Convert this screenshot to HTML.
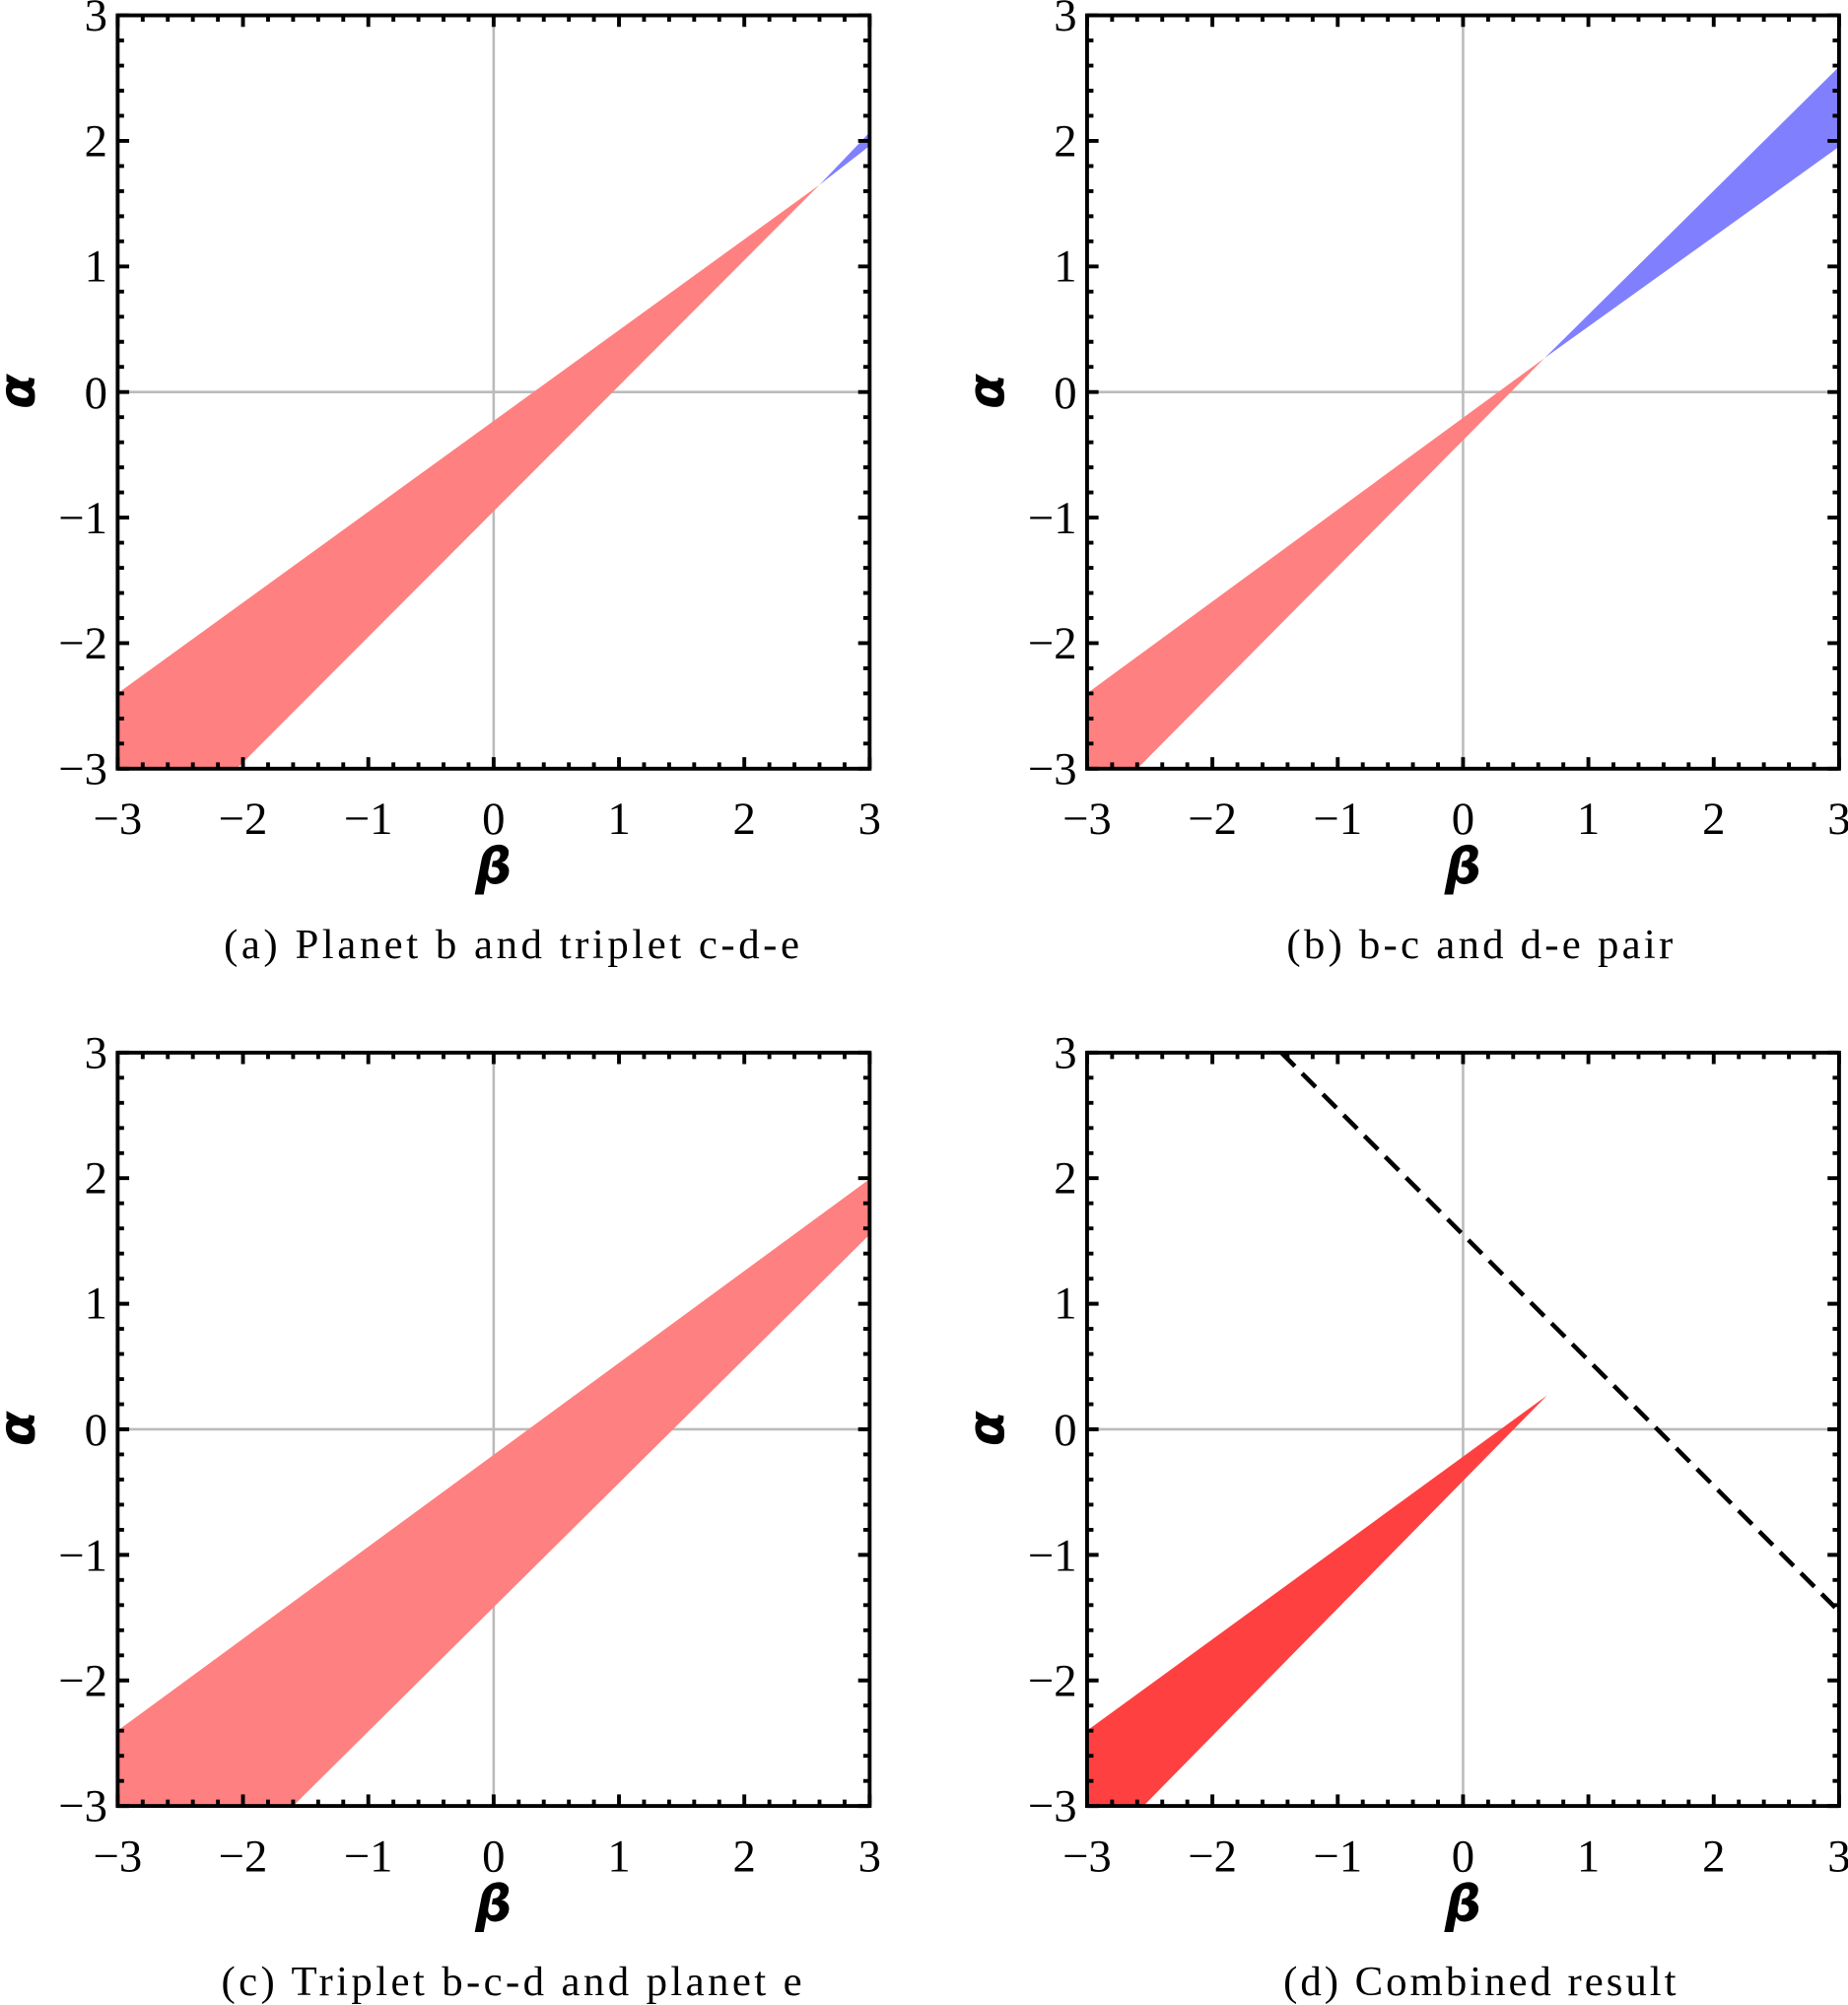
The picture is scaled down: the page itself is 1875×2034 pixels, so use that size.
<!DOCTYPE html>
<html><head><meta charset="utf-8"><style>
html,body{margin:0;padding:0;background:#fff;}
svg{display:block;}
.t{font-family:"Liberation Serif",serif;font-size:36px;fill:#000;}
.c{font-family:"Liberation Serif",serif;font-size:33px;fill:#000;text-anchor:middle;}
.g{font-family:"DejaVu Sans","Liberation Sans",sans-serif;font-size:40px;font-style:italic;font-weight:bold;fill:#000;text-anchor:middle;}
</style></head><body>
<svg id="s" width="1875" height="2034" viewBox="0 0 1445 1567.6" preserveAspectRatio="none" xmlns="http://www.w3.org/2000/svg">
<defs>
<clipPath id="cp"><rect x="0" y="0" width="588" height="589"/></clipPath>
</defs>

<!-- Panel a -->
<g transform="translate(92,12)">
 <g clip-path="url(#cp)">
  <line x1="294" y1="0" x2="294" y2="589" stroke="#bbb" stroke-width="2"/>
  <line x1="0" y1="294.5" x2="588" y2="294.5" stroke="#bbb" stroke-width="2"/>
  <polygon id="pa" fill="#ff8080"/>
  <polygon id="pa2" fill="#8080ff"/>
 </g>
 <g class="ticks"></g>
 <rect x="0" y="0" width="588" height="589" fill="none" stroke="#000" stroke-width="3"/>
 <g class="t" text-anchor="end">
  <text x="-8" y="12">3</text><text x="-8" y="110">2</text><text x="-8" y="208">1</text><text x="-8" y="307">0</text><text x="-8" y="405">−1</text><text x="-8" y="503">−2</text><text x="-8" y="601">−3</text>
 </g>
 <g class="t" text-anchor="middle">
  <text x="0" y="640">−3</text><text x="98" y="640">−2</text><text x="196" y="640">−1</text><text x="294" y="640">0</text><text x="392" y="640">1</text><text x="490" y="640">2</text><text x="588" y="640">3</text>
 </g>
 <text class="g" x="294" y="679">β</text>
 <text class="g" transform="translate(-65,294) rotate(-90)" y="0">α</text>
 <text class="c" x="308" y="737" textLength="450">(a) Planet b and triplet c-d-e</text>
</g>

<!-- Panel b -->
<g transform="translate(850,12)">
 <g clip-path="url(#cp)">
  <line x1="294" y1="0" x2="294" y2="589" stroke="#bbb" stroke-width="2"/>
  <line x1="0" y1="294.5" x2="588" y2="294.5" stroke="#bbb" stroke-width="2"/>
  <polygon id="pb" fill="#ff8080"/>
  <polygon id="pb2" fill="#8080ff"/>
 </g>
 <g class="ticks"></g>
 <rect x="0" y="0" width="588" height="589" fill="none" stroke="#000" stroke-width="3"/>
 <g class="t" text-anchor="end">
  <text x="-8" y="12">3</text><text x="-8" y="110">2</text><text x="-8" y="208">1</text><text x="-8" y="307">0</text><text x="-8" y="405">−1</text><text x="-8" y="503">−2</text><text x="-8" y="601">−3</text>
 </g>
 <g class="t" text-anchor="middle">
  <text x="0" y="640">−3</text><text x="98" y="640">−2</text><text x="196" y="640">−1</text><text x="294" y="640">0</text><text x="392" y="640">1</text><text x="490" y="640">2</text><text x="588" y="640">3</text>
 </g>
 <text class="g" x="294" y="679">β</text>
 <text class="g" transform="translate(-65,294) rotate(-90)" y="0">α</text>
 <text class="c" x="307" y="737" textLength="302">(b) b-c and d-e pair</text>
</g>

<!-- Panel c -->
<g transform="translate(92,823)">
 <g clip-path="url(#cp)">
  <line x1="294" y1="0" x2="294" y2="589" stroke="#bbb" stroke-width="2"/>
  <line x1="0" y1="294.5" x2="588" y2="294.5" stroke="#bbb" stroke-width="2"/>
  <polygon id="pc" fill="#ff8080"/>
 </g>
 <g class="ticks"></g>
 <rect x="0" y="0" width="588" height="589" fill="none" stroke="#000" stroke-width="3"/>
 <g class="t" text-anchor="end">
  <text x="-8" y="12">3</text><text x="-8" y="110">2</text><text x="-8" y="208">1</text><text x="-8" y="307">0</text><text x="-8" y="405">−1</text><text x="-8" y="503">−2</text><text x="-8" y="601">−3</text>
 </g>
 <g class="t" text-anchor="middle">
  <text x="0" y="640">−3</text><text x="98" y="640">−2</text><text x="196" y="640">−1</text><text x="294" y="640">0</text><text x="392" y="640">1</text><text x="490" y="640">2</text><text x="588" y="640">3</text>
 </g>
 <text class="g" x="294" y="679">β</text>
 <text class="g" transform="translate(-65,294) rotate(-90)" y="0">α</text>
 <text class="c" x="308" y="737" textLength="454">(c) Triplet b-c-d and planet e</text>
</g>

<!-- Panel d -->
<g transform="translate(850,823)">
 <g clip-path="url(#cp)">
  <line x1="294" y1="0" x2="294" y2="589" stroke="#bbb" stroke-width="2"/>
  <line x1="0" y1="294.5" x2="588" y2="294.5" stroke="#bbb" stroke-width="2"/>
  <polygon id="pd" fill="#ff4040"/>
  <line id="ld" stroke="#000" stroke-width="3.5" stroke-dasharray="15,8"/>
 </g>
 <g class="ticks"></g>
 <rect x="0" y="0" width="588" height="589" fill="none" stroke="#000" stroke-width="3"/>
 <g class="t" text-anchor="end">
  <text x="-8" y="12">3</text><text x="-8" y="110">2</text><text x="-8" y="208">1</text><text x="-8" y="307">0</text><text x="-8" y="405">−1</text><text x="-8" y="503">−2</text><text x="-8" y="601">−3</text>
 </g>
 <g class="t" text-anchor="middle">
  <text x="0" y="640">−3</text><text x="98" y="640">−2</text><text x="196" y="640">−1</text><text x="294" y="640">0</text><text x="392" y="640">1</text><text x="490" y="640">2</text><text x="588" y="640">3</text>
 </g>
 <text class="g" x="294" y="679">β</text>
 <text class="g" transform="translate(-65,294) rotate(-90)" y="0">α</text>
 <text class="c" x="307" y="737" textLength="307">(d) Combined result</text>
</g>
</svg>
<script>
(function(){
 var NS="http://www.w3.org/2000/svg";
 function X(b){return (b+3)*98;}
 function Y(a){return (3-a)*98.17;}
 function pts(arr){return arr.map(function(p){return X(p[0]).toFixed(1)+","+Y(p[1]).toFixed(1);}).join(" ");}
 function setp(id,arr){document.getElementById(id).setAttribute("points",pts(arr));}
 setp("pa",[[-3,-3],[-3,-2.4],[2.6,1.65],[-2.05,-3]]);
 setp("pa2",[[2.6,1.65],[3.05,2.12],[3.05,2.0]]);
 setp("pb",[[-3,-3],[-3,-2.4],[0.65,0.27],[-2.6,-3]]);
 setp("pb2",[[0.65,0.27],[3.05,2.64],[3.05,1.99]]);
 setp("pc",[[-3,-3],[-3,-2.4],[3.05,2.03],[3.05,1.6],[-1.6,-3]]);
 setp("pd",[[-3,-3],[-3,-2.4],[0.67,0.27],[-2.55,-3]]);
 var l=document.getElementById("ld");
 l.setAttribute("x1",X(-1.45));l.setAttribute("y1",Y(3));
 l.setAttribute("x2",X(3));l.setAttribute("y2",Y(-1.45));
 var gs=document.querySelectorAll("g.ticks");
 gs.forEach(function(g){
  var d="";
  for(var i=0;i<=30;i++){
   var v=-3+i*0.2;var maj=(i%5==0);var L=maj?9:5;
   var x=X(v),y=Y(v);
   d+="M"+x+",589v-"+L+"M"+x+",0v"+L;
   d+="M0,"+y+"h"+L+"M588,"+y+"h-"+L;
  }
  var p=document.createElementNS(NS,"path");
  p.setAttribute("d",d);p.setAttribute("stroke","#000");p.setAttribute("stroke-width","3");p.setAttribute("fill","none");
  g.appendChild(p);
 });
})();
</script>
</body></html>
